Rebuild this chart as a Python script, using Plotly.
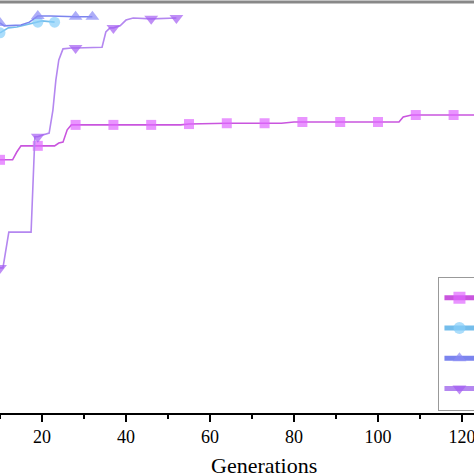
import plotly.graph_objects as go

# fitness curves (y axis is not visible in the crop, values are on a 0-1 scale)
gen_a = [10, 13, 14, 15, 19, 23, 24, 25, 26, 27, 28, 37, 46, 53, 55, 64, 73, 77, 80, 82, 91, 100, 105, 106, 108, 109, 118, 127, 130]
fit_a = [0.616, 0.616, 0.635, 0.650, 0.650, 0.650, 0.657, 0.659, 0.689, 0.701, 0.701, 0.701, 0.701, 0.701,
         0.703, 0.705, 0.705, 0.705, 0.708, 0.708, 0.708, 0.708, 0.708, 0.720, 0.725, 0.725, 0.725, 0.725, 0.725]

gen_b = [10, 12, 14, 16, 19, 20, 23]
fit_b = [0.925, 0.937, 0.939, 0.944, 0.951, 0.954, 0.951]

gen_c = [10, 11, 15, 17, 19, 22, 28, 32]
fit_c = [0.949, 0.942, 0.944, 0.951, 0.966, 0.966, 0.964, 0.964]

gen_d = [10, 10.7, 12.1, 17.4, 18.3, 19, 20, 21.7, 22.6, 23.3, 24, 25, 27, 28, 34.3, 35.2, 36.2, 37, 38.6, 40, 41.7, 46, 52]
fit_d = [0.353, 0.353, 0.440, 0.440, 0.672, 0.672, 0.676, 0.681, 0.737, 0.810, 0.859, 0.886, 0.888, 0.888,
         0.890, 0.927, 0.937, 0.937, 0.942, 0.956, 0.961, 0.959, 0.961]

# generations where a symbol is drawn
marks_a = [10, 19, 28, 37, 46, 55, 64, 73, 82, 91, 100, 109, 118, 127]
marks_b = [10, 19, 23]
marks_c = [10, 19, 28, 32]
marks_d = [10, 19, 28, 37, 46, 52]

names = ["Method 1", "Method 2", "Method 3", "Method 4"]

series = [
    (gen_a, fit_a, marks_a, "square", 10, "#C955DE", "#E066FF"),
    (gen_b, fit_b, marks_b, "circle", 11, "#74BDEB", "#87CEFA"),
    (gen_c, fit_c, marks_c, "triangle-up", 12, "#7B84EE", "#8A8AF5"),
    (gen_d, fit_d, marks_d, "triangle-down", 12, "#B487F0", "#A45EF2"),
]

fig = go.Figure()
for name, (g, f, marks, sym, size, lcol, mcol) in zip(names, series):
    sizes = [size if x in marks else 0 for x in g]
    fig.add_trace(go.Scatter(
        x=g, y=f, name=name, mode="lines+markers",
        line=dict(color=lcol, width=1.6),
        marker=dict(symbol=sym, size=sizes, color=mcol, line=dict(width=0)),
    ))

fig.update_layout(
    width=474, height=474,
    margin=dict(l=0, r=0, t=2, b=61, autoexpand=False),
    plot_bgcolor="white", paper_bgcolor="white",
    font=dict(family="Liberation Serif", size=18, color="black"),
    showlegend=True,
    legend=dict(
        x=0.925, y=0.332, xanchor="left", yanchor="top",
        bordercolor="#999999", borderwidth=1, bgcolor="white",
        font=dict(size=21), itemsizing="constant",
    ),
    xaxis=dict(
        range=[10, 122.86], showgrid=False, zeroline=False,
        showline=True, linecolor="black", linewidth=1.5,
        ticks="outside", ticklen=7, tickwidth=1.5, tickcolor="black",
        tick0=0, dtick=20, ticklabeloverflow="allow",
        minor=dict(ticks="outside", ticklen=4, tickwidth=1.5, tickcolor="black", dtick=10),
    ),
    yaxis=dict(range=[0, 1], visible=False),
    shapes=[dict(type="line", xref="paper", yref="paper", x0=0, x1=1, y0=1, y1=1,
                 line=dict(color="#888888", width=3))],
    annotations=[dict(text="Generations", xref="paper", yref="paper", x=0.557, y=0,
                      yanchor="middle", yshift=-52, showarrow=False,
                      font=dict(family="Liberation Serif", size=22, color="black"))],
)

# page body has a default 8px margin, drop it so the figure sits at the window corner
fig.write_html("out.html", config={"displayModeBar": False},
               post_script="document.body.style.margin='0';")
